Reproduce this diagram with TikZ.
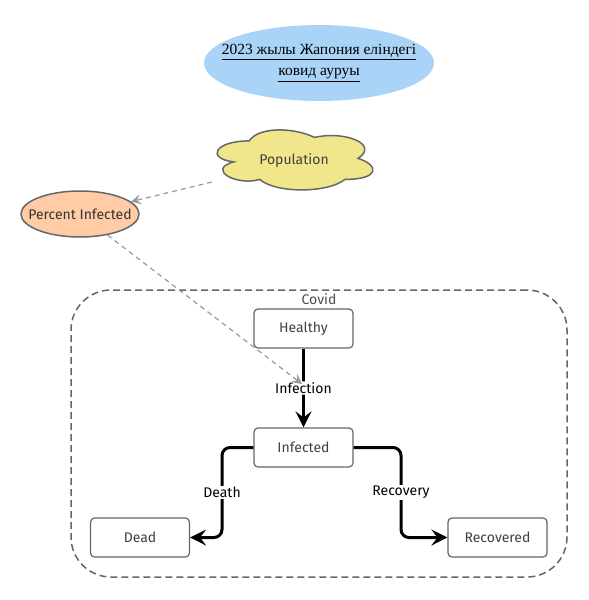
\documentclass[tikz,border=0pt]{standalone}
\usepackage{fontspec}
\setmainfont{Fira Sans}
\newfontfamily\titlefont{Liberation Serif}
\usetikzlibrary{shapes.geometric,arrows.meta}
\definecolor{titleblue}{HTML}{A9D4F7}
\definecolor{cloudyellow}{HTML}{F0E68C}
\definecolor{peach}{HTML}{FFCCA6}
\definecolor{edgegray}{HTML}{666666}
\definecolor{dashgray}{HTML}{999999}
\tikzset{
  statebox/.style={draw=edgegray, line width=1.2pt, rounded corners=4pt, fill=white,
    minimum width=99pt, minimum height=39pt, inner sep=0pt,
    font=\fontsize{14}{16}\selectfont, text=black!75},
  flow/.style={line width=3pt, rounded corners=8pt, -{Stealth[length=16pt,width=16pt,inset=6pt]}},
  influence/.style={draw=dashgray, line width=1.2pt, dash pattern=on 5pt off 4pt,
    -{Stealth[length=10pt,width=10pt,inset=4pt,fill=dashgray]}},
  elabel/.style={fill=white, inner sep=1pt, font=\fontsize{14}{16}\selectfont}
}
\begin{document}
\begin{tikzpicture}[x=1pt,y=-1pt]
\useasboundingbox (0,0) rectangle (589,600);
% title
\node (title) [ellipse, fill=titleblue, minimum width=230pt, minimum height=76pt, inner sep=0pt,
  label={[align=center, font=\titlefont\fontsize{15.5}{21}\selectfont]center:{\underline{2023 жылы Жапония еліндегі}\\\underline{ковид ауруы}}}]
  at (319,63) {};
% population cloud (draw.io cloud outline)
\begin{scope}[shift={(205.8,123.4)}, x=174pt, y=-70pt]
  \filldraw[draw=edgegray, line width=1.5pt, fill=cloudyellow]
    (0.25,0.25) .. controls (0.05,0.25) and (0,0.5) .. (0.16,0.55)
    .. controls (0,0.66) and (0.18,0.9) .. (0.31,0.8)
    .. controls (0.4,1) and (0.7,1) .. (0.8,0.8)
    .. controls (1,0.8) and (1,0.6) .. (0.875,0.5)
    .. controls (1,0.3) and (0.8,0.1) .. (0.625,0.2)
    .. controls (0.5,0.05) and (0.3,0.05) .. (0.25,0.25) -- cycle;
\end{scope}
\node (pop) [font=\fontsize{14}{16}\selectfont, text=black!75] at (294,161) {Population};
\coordinate (popout) at (212,182);
% percent infected
\node (pct) [ellipse, draw=edgegray, line width=1.5pt, fill=peach, minimum width=118pt,
  minimum height=46pt, inner sep=0pt,
  label={[font=\fontsize{14}{16}\selectfont, text=black!80]center:Percent Infected}]
  at (80,214) {};
% container
\node (covidbox) [draw=edgegray, line width=1.5pt, dash pattern=on 7pt off 4pt,
  rounded corners=40pt, minimum width=496pt, minimum height=287pt, inner sep=0pt] at (319,433.5) {};
\node (covidlbl) [font=\fontsize{14}{16}\selectfont, text=black!70] at (319,299.5) {Covid};
% states
\node (healthy) [statebox] at (303.5,328.5) {Healthy};
\node (infected) [statebox] at (303.5,447.5) {Infected};
\node (dead) [statebox] at (140,537.5) {Dead};
\node (recovered) [statebox] at (497.5,537.5) {Recovered};
% flows
\draw[flow] (healthy.south) -- node[elabel, pos=0.5] (inflbl) {Infection} (infected.north);
\draw[flow] (infected.west) -| (222,537.5) node[elabel, pos=0.75] (deathlbl) {Death} -- (dead.east);
\draw[flow] (infected.east) -| (401,537.5) node[elabel, pos=0.75] (reclbl) {Recovery} -- (recovered.west);
% influences
\coordinate (infpt) at (302,384);
\draw[influence] (popout) -- (pct);
\draw[influence] (pct) -- (infpt);
\end{tikzpicture}
\end{document}
